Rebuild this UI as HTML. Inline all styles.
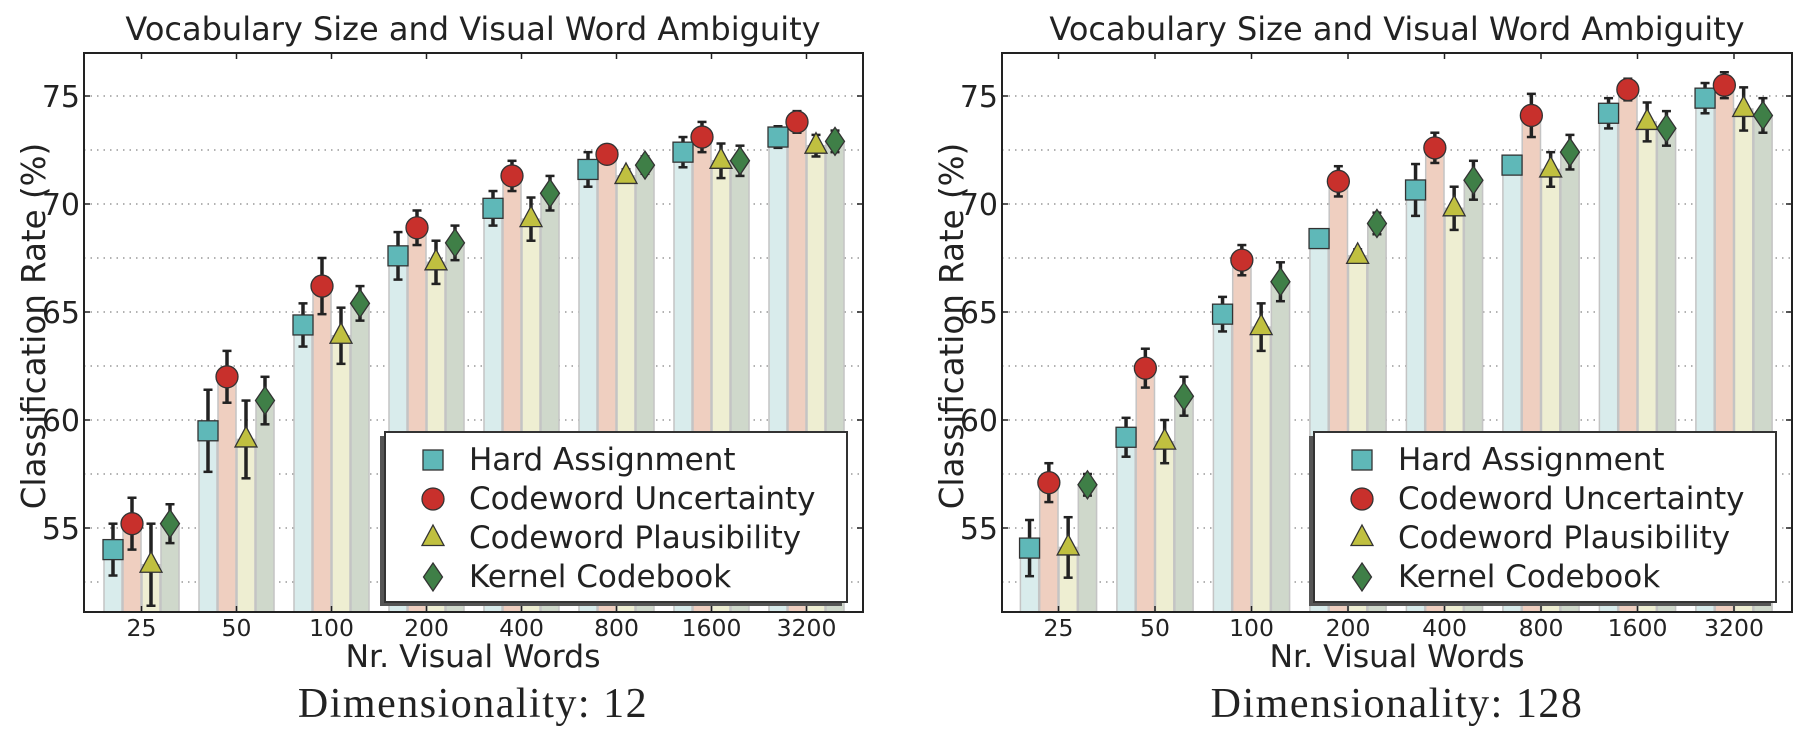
<!DOCTYPE html>
<html><head><meta charset="utf-8"><style>
body{margin:0;background:#fff;}
svg{display:block;}
text{font-family:"DejaVu Sans","Liberation Sans",sans-serif;fill:#222;}
.dm{font-family:'Liberation Serif',serif;letter-spacing:1.5px;}
</style></head><body>
<svg id="s" width="1806" height="738" xmlns="http://www.w3.org/2000/svg">
<g id="plots"></g>
<text x="473" y="40" font-size="32" text-anchor="middle">Vocabulary Size and Visual Word Ambiguity</text>
<text x="80" y="107" font-size="30" text-anchor="end">75</text>
<text x="80" y="215" font-size="30" text-anchor="end">70</text>
<text x="80" y="323" font-size="30" text-anchor="end">65</text>
<text x="80" y="431" font-size="30" text-anchor="end">60</text>
<text x="80" y="539" font-size="30" text-anchor="end">55</text>
<text transform="translate(45,326) rotate(-90)" font-size="32.5" text-anchor="middle">Classification Rate (%)</text>
<g font-size="23.5" text-anchor="middle">
<text x="141.5" y="636">25</text><text x="236.5" y="636">50</text><text x="331.5" y="636">100</text><text x="426.5" y="636">200</text><text x="521.5" y="636">400</text><text x="616.5" y="636">800</text><text x="711.5" y="636">1600</text><text x="806.5" y="636">3200</text>
</g>
<text x="473" y="667" font-size="31.5" text-anchor="middle">Nr. Visual Words</text>
<text x="473" y="717" font-size="42" text-anchor="middle" class="dm">Dimensionality: 12</text>
<text x="1397" y="40" font-size="32" text-anchor="middle">Vocabulary Size and Visual Word Ambiguity</text>
<text x="998" y="107" font-size="30" text-anchor="end">75</text>
<text x="998" y="215" font-size="30" text-anchor="end">70</text>
<text x="998" y="323" font-size="30" text-anchor="end">65</text>
<text x="998" y="431" font-size="30" text-anchor="end">60</text>
<text x="998" y="539" font-size="30" text-anchor="end">55</text>
<text transform="translate(963,326) rotate(-90)" font-size="32.5" text-anchor="middle">Classification Rate (%)</text>
<g font-size="23.5" text-anchor="middle">
<text x="1058.5" y="636">25</text><text x="1155" y="636">50</text><text x="1251.5" y="636">100</text><text x="1348" y="636">200</text><text x="1444.5" y="636">400</text><text x="1541" y="636">800</text><text x="1637.5" y="636">1600</text><text x="1734" y="636">3200</text>
</g>
<text x="1397" y="667" font-size="31.5" text-anchor="middle">Nr. Visual Words</text>
<text x="1397" y="717" font-size="42" text-anchor="middle" class="dm">Dimensionality: 128</text>
<g id="leg"></g>
<g font-size="31">
<text x="469" y="470">Hard Assignment</text>
<text x="469" y="509">Codeword Uncertainty</text>
<text x="469" y="548">Codeword Plausibility</text>
<text x="469" y="587">Kernel Codebook</text>
<text x="1398" y="470">Hard Assignment</text>
<text x="1398" y="509">Codeword Uncertainty</text>
<text x="1398" y="548">Codeword Plausibility</text>
<text x="1398" y="587">Kernel Codebook</text>
</g>
</svg>
<script>
const NS="http://www.w3.org/2000/svg";
const P=document.getElementById('plots');
function el(t,a,p){const e=document.createElementNS(NS,t);for(const k in a)e.setAttribute(k,a[k]);(p||P).appendChild(e);return e;}
const Y=v=>96+(75-v)*21.6;
const light=['#d9ecec','#efcfc0','#eeeed2','#cfd8cb'];
const mk=['#5fb8b8','#c8302c','#c0c040','#3f7f47'];
function marker(i,x,y,g){
 const st={fill:mk[i],stroke:'#333','stroke-width':1.3};
 if(i==0)el('rect',Object.assign({x:x-10,y:y-10,width:20,height:20},st),g);
 else if(i==1)el('circle',Object.assign({cx:x,cy:y,r:11},st),g);
 else if(i==2)el('polygon',Object.assign({points:`${x},${y-13} ${x+11},${y+7.5} ${x-11},${y+7.5}`},st),g);
 else el('polygon',Object.assign({points:`${x},${y-14} ${x+9.5},${y} ${x},${y+14} ${x-9.5},${y}`},st),g);
}
function plot(L,R,c0,per,vals,errs){
 for(let v=52.5;v<=75;v+=2.5)el('line',{x1:L,x2:R,y1:Y(v),y2:Y(v),stroke:'#999','stroke-width':1.5,'stroke-dasharray':'1.5 5'});
 const bw=per*0.2;
 for(let g=0;g<8;g++){
  const c=c0+per*g;
  for(let i=0;i<4;i++){
   const x=c-2*bw+i*bw, v=vals[g][i];
   el('rect',{x:x+0.5,y:Y(v),width:bw-1,height:612-Y(v),fill:light[i],stroke:'#c4c4c4','stroke-width':1.5});
  }
 }
 for(let g=0;g<8;g++){
  const c=c0+per*g;
  for(let i=0;i<4;i++){
   const x=c-2*bw+(i+0.5)*bw, v=vals[g][i], e=errs[g][i];
   el('line',{x1:x,x2:x,y1:Y(v+e),y2:Y(v-e),stroke:'#222','stroke-width':3.5});
   el('line',{x1:x-4.5,x2:x+4.5,y1:Y(v+e),y2:Y(v+e),stroke:'#222','stroke-width':2.5});
   el('line',{x1:x-4.5,x2:x+4.5,y1:Y(v-e),y2:Y(v-e),stroke:'#222','stroke-width':2.5});
   marker(i,x,Y(v));
  }
  el('line',{x1:c,x2:c,y1:612,y2:606,stroke:'#222','stroke-width':1.5});
  el('line',{x1:c,x2:c,y1:53,y2:59,stroke:'#222','stroke-width':1.5});
 }
 for(const v of [55,60,65,70,75]){
  el('line',{x1:L,x2:L+6,y1:Y(v),y2:Y(v),stroke:'#222','stroke-width':1.5});
  el('line',{x1:R,x2:R-6,y1:Y(v),y2:Y(v),stroke:'#222','stroke-width':1.5});
 }
 el('rect',{x:L,y:53,width:R-L,height:559,fill:'none',stroke:'#222','stroke-width':2});
}
plot(84,863,141.5,95,
[[54.0,55.2,53.3,55.2],[59.5,62.0,59.1,60.9],[64.4,66.2,63.9,65.4],[67.6,68.9,67.3,68.2],[69.8,71.3,69.3,70.5],[71.6,72.3,71.3,71.8],[72.4,73.1,72.0,72.0],[73.1,73.8,72.7,72.9]],
[[1.2,1.2,1.9,0.9],[1.9,1.2,1.8,1.1],[1.0,1.3,1.3,0.8],[1.1,0.8,1.0,0.8],[0.8,0.7,1.0,0.8],[0.8,0.4,0.3,0.4],[0.7,0.7,0.8,0.7],[0.5,0.5,0.5,0.5]]);
plot(1002,1792,1058.5,96.5,
[[54.07,57.1,54.1,57.0],[59.2,62.4,59.0,61.1],[64.9,67.4,64.3,66.4],[68.4,71.05,67.6,69.1],[70.65,72.6,69.8,71.1],[71.8,74.1,71.6,72.4],[74.2,75.3,73.8,73.5],[74.9,75.5,74.4,74.1]],
[[1.3,0.9,1.4,0.5],[0.9,0.9,1.0,0.9],[0.8,0.7,1.1,0.9],[0.4,0.7,0.3,0.5],[1.2,0.7,1.0,0.9],[0.3,1.0,0.8,0.8],[0.7,0.5,0.9,0.8],[0.7,0.6,1.0,0.8]]);
const LG=document.getElementById('leg');
for(const lx of [385,1314]){
 el('rect',{x:lx-5,y:436,width:462,height:170,fill:'#555'},LG);
 el('rect',{x:lx,y:432,width:462,height:170,fill:'#fff',stroke:'#333','stroke-width':2},LG);
 for(let i=0;i<4;i++)marker(i,lx+48,460+39*i,LG);
}
</script>
</body></html>
